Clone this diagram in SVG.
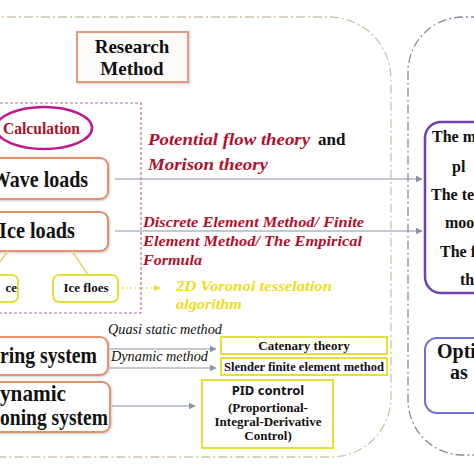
<svg xmlns="http://www.w3.org/2000/svg" width="474" height="474" viewBox="0 0 474 474">
<defs>
<filter id="sh" x="-20%" y="-20%" width="140%" height="140%"><feDropShadow dx="1" dy="1" stdDeviation="1.2" flood-color="#999" flood-opacity="0.5"/></filter>
<marker id="ag" viewBox="0 0 10 10" refX="9" refY="5" markerWidth="7" markerHeight="7" orient="auto" markerUnits="userSpaceOnUse"><path d="M0,0 L10,5 L0,10 z" fill="#8a94a4"/></marker>
<marker id="ay" viewBox="0 0 10 10" refX="9" refY="5" markerWidth="7" markerHeight="7" orient="auto" markerUnits="userSpaceOnUse"><path d="M0,0 L10,5 L0,10 z" fill="#e8d838"/></marker>
</defs>
<style>
.serif{font-family:"Liberation Serif","Times New Roman",serif}
.b{font-weight:bold}
.big{font-family:"Liberation Serif",serif;font-weight:bold;font-size:24px;fill:#111}
.red{font-family:"Liberation Serif",serif;font-weight:bold;font-style:italic;fill:#b0102c}
.yel{font-family:"Liberation Serif",serif;font-weight:bold;font-style:italic;fill:#f0dc20;font-size:14px}
.ora{fill:#fff;stroke:#e2906e;stroke-width:2}
.ybox{fill:#fff;stroke:#e8dc3c;stroke-width:2}
.sm{font-family:"Liberation Serif",serif;font-weight:bold;font-size:13px;fill:#111}
.rt{font-family:"Liberation Serif",serif;font-weight:bold;font-size:16px;fill:#111}
.conn{stroke:#8a94a4;stroke-width:1.2;fill:none}
</style>
<rect width="474" height="474" fill="#fff"/>
<g id="frames" fill="none">
<path d="M-10,17 H329 A62,62 0 0 1 391,79 V397 A60,60 0 0 1 331,457 H-10" stroke="#cfc3a8" stroke-width="1.3" stroke-dasharray="9,3,2,3"/>
<path d="M480,17 H463 A55,55 0 0 0 408,72 V400 A55,55 0 0 0 463,455 H480" stroke="#8a88a0" stroke-width="1.3" stroke-dasharray="9,3,2,3"/>
<rect x="-10" y="103" width="151" height="210" stroke="#b86aa2" stroke-width="1.2" stroke-dasharray="3,2"/>
</g>
<g id="research-method">
<rect x="77" y="32" width="111" height="50" fill="#fdfbfa" stroke="#e89a80" stroke-width="2" filter="url(#sh)"/>
<text class="serif b" x="132" y="53" font-size="19" text-anchor="middle" fill="#111">Research</text>
<text class="serif b" x="132" y="75" font-size="19" text-anchor="middle" fill="#111">Method</text>
</g>
<g id="calculation">
<ellipse cx="44" cy="128" rx="48" ry="21" fill="none" stroke="#c0188c" stroke-width="2.5"/>
<text class="serif b" x="3" y="134" font-size="16" fill="#a8102a" textLength="77" lengthAdjust="spacingAndGlyphs">Calculation</text>
</g>
<g id="wave-loads">
<rect x="-20" y="158" width="128" height="41" rx="8" class="ora" filter="url(#sh)"/>
<text class="big" x="-9" y="187" textLength="97" lengthAdjust="spacingAndGlyphs">Wave loads</text>
</g>
<g id="ice-loads">
<rect x="-20" y="212" width="128" height="39" rx="8" class="ora" filter="url(#sh)"/>
<text class="big" x="-1" y="238" textLength="76" lengthAdjust="spacingAndGlyphs">Ice loads</text>
</g>
<g id="level-ice">
<rect x="-20" y="275" width="38" height="27" rx="6" class="ybox"/>
<text class="sm" x="17" y="292" text-anchor="end" font-size="14">ce</text>
</g>
<g id="ice-floes">
<rect x="53" y="275" width="65" height="27" rx="6" class="ybox"/>
<text class="sm" x="86" y="292" text-anchor="middle">Ice floes</text>
</g>
<g id="mooring">
<rect x="-20" y="337" width="128" height="38" rx="8" class="ora" filter="url(#sh)"/>
<text class="big" x="0" y="363" textLength="97" lengthAdjust="spacingAndGlyphs">ring system</text>
</g>
<g id="dp">
<rect x="-20" y="382" width="130" height="50" rx="8" class="ora" filter="url(#sh)"/>
<text class="big" x="0" y="401" textLength="66" lengthAdjust="spacingAndGlyphs">ynamic</text>
<text class="big" x="0" y="425" textLength="108" lengthAdjust="spacingAndGlyphs">oning system</text>
</g>
<g id="potential-text">
<text class="red" x="148" y="145" font-size="17" textLength="162" lengthAdjust="spacingAndGlyphs">Potential flow theory</text>
<text class="serif b" x="318" y="145" font-size="17" fill="#111">and</text>
<text class="red" x="148" y="170" font-size="17" textLength="120" lengthAdjust="spacingAndGlyphs">Morison theory</text>
</g>
<g id="dem-text">
<text class="red" x="143" y="227" font-size="14.5" textLength="221" lengthAdjust="spacingAndGlyphs">Discrete Element Method/ Finite</text>
<text class="red" x="143" y="246" font-size="14.5" textLength="219" lengthAdjust="spacingAndGlyphs">Element Method/ The Empirical</text>
<text class="red" x="143" y="265" font-size="14.5" textLength="59" lengthAdjust="spacingAndGlyphs">Formula</text>
</g>
<g id="voronoi-text">
<text class="yel" x="176" y="291" textLength="156" lengthAdjust="spacingAndGlyphs">2D Voronoi tesselation</text>
<text class="yel" x="176" y="309" textLength="66" lengthAdjust="spacingAndGlyphs">algorithm</text>
</g>
<g id="method-labels">
<text class="serif" x="108" y="334" font-size="14" font-style="italic" fill="#111" textLength="114" lengthAdjust="spacingAndGlyphs">Quasi static method</text>
<text class="serif" x="111" y="361" font-size="14" font-style="italic" fill="#111" textLength="97" lengthAdjust="spacingAndGlyphs">Dynamic method</text>
</g>
<g id="catenary">
<rect x="221" y="337" width="166" height="17" class="ybox"/>
<text class="sm" x="304" y="350" font-size="12" text-anchor="middle">Catenary theory</text>
</g>
<g id="slender">
<rect x="221" y="358" width="166" height="17" class="ybox"/>
<text class="sm" x="304" y="371" font-size="12" text-anchor="middle" textLength="160" lengthAdjust="spacingAndGlyphs">Slender finite element method</text>
</g>
<g id="pid">
<rect x="202" y="380" width="131" height="68" class="ybox" stroke-width="2.5"/>
<text x="268" y="395" font-family="'Noto Sans','DejaVu Sans',sans-serif" font-weight="bold" font-size="13" text-anchor="middle" fill="#111">PID control</text>
<text class="sm" x="268" y="412" text-anchor="middle">(Proportional-</text>
<text class="sm" x="268" y="426" text-anchor="middle">Integral-Derivative</text>
<text class="sm" x="268" y="440" text-anchor="middle">Control)</text>
</g>
<g id="results">
<rect x="425" y="122" width="70" height="171" rx="16" fill="#fff" stroke="#7040b0" stroke-width="2.5"/>
<text class="rt" x="432" y="142">The m</text>
<text class="rt" x="452" y="172">pl</text>
<text class="rt" x="431" y="200">The te</text>
<text class="rt" x="445" y="228">moo</text>
<text class="rt" x="440" y="257">The f</text>
<text class="rt" x="460" y="285">th</text>
</g>
<g id="optimization">
<rect x="425" y="338" width="70" height="75" rx="12" fill="#fff" stroke="#7070d0" stroke-width="2"/>
<text class="serif b" x="437" y="358" font-size="20" fill="#111">Opti</text>
<text class="serif b" x="450" y="379" font-size="20" fill="#111">as</text>
</g>
<g id="connectors">
<line x1="115" y1="179" x2="422" y2="179" class="conn" marker-end="url(#ag)"/>
<line x1="115" y1="231" x2="422" y2="231" class="conn" marker-end="url(#ag)"/>
<line x1="110" y1="349" x2="216" y2="349" class="conn" stroke="#b0b8c8" marker-end="url(#ag)"/>
<line x1="110" y1="368" x2="216" y2="368" class="conn" stroke="#b0b8c8" marker-end="url(#ag)"/>
<line x1="112" y1="406" x2="195" y2="406" class="conn" marker-end="url(#ag)"/>
<line x1="118" y1="288" x2="160" y2="288" stroke="#e8d838" stroke-width="1.2" stroke-dasharray="2,2" marker-end="url(#ay)"/>
<line x1="8" y1="251" x2="-2" y2="264" stroke="#e4d460" stroke-width="1.5"/>
<line x1="72" y1="251" x2="88" y2="275" stroke="#e4d460" stroke-width="1.5"/>
</g>
</svg>
